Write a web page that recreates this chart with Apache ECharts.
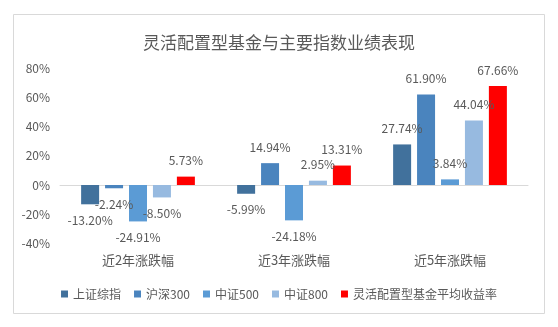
<!DOCTYPE html>
<html>
<head>
<meta charset="UTF-8">
<script src="https://cdn.jsdelivr.net/npm/echarts@6/dist/echarts.min.js"></script>
<title>灵活配置型基金与主要指数业绩表现</title>
<style>
html, body {
	margin: 0;
	padding: 0;
	background: #FFFFFF;
}

#main {
	width: 558px;
	height: 327px;
}
</style>
</head>
<body>
	<div id="main"></div>
	<script>
		// 数据
		var categories = [ '近2年涨跌幅', '近3年涨跌幅', '近5年涨跌幅' ];
		var seriesNames = [ '上证综指', '沪深300', '中证500', '中证800', '灵活配置型基金平均收益率' ];
		var szzz = [ -13.20, -5.99, 27.74 ];
		var hs300 = [ -2.24, 14.94, 61.90 ];
		var zz500 = [ -24.91, -24.18, 3.84 ];
		var zz800 = [ -8.50, 2.95, 44.04 ];
		var fundAvg = [ 5.73, 13.31, 67.66 ];
		var yTicks = [ -40, -20, 0, 20, 40, 60, 80 ];

		var seriesData = [ szzz, hs300, zz500, zz800, fundAvg ];
		var colors = [ '#41719C', '#4A84BE', '#5B9BD5', '#97BAE0', '#FF0000' ];

		var mychart = echarts.init(document.getElementById('main'), null, {
			renderer : 'canvas'
		});

		// 负数标签放在柱子下方
		function toItems(arr) {
			return arr.map(function(v) {
				return {
					value : v,
					label : {
						position : v < 0 ? 'bottom' : 'top'
					}
				};
			});
		}

		var series = seriesNames.map(function(name, i) {
			return {
				name : name,
				type : 'bar',
				xAxisIndex : 0,
				barWidth : 18,
				barGap : '33%',
				data : toItems(seriesData[i]),
				label : {
					show : true,
					distance : 10,
					color : '#595959',
					fontSize : 12,
					lineHeight : 12,
					formatter : function(p) {
						return p.value.toFixed(2) + '%';
					}
				}
			};
		});

		var option = {
			animation : false,
			color : colors,
			textStyle : {
				fontFamily : 'Noto Sans CJK SC'
			},
			graphic : [ {
				type : 'rect',
				z : -10,
				shape : {
					x : 13.5,
					y : 14.5,
					width : 531,
					height : 299
				},
				style : {
					fill : '#FFFFFF',
					stroke : '#D9D9D9',
					lineWidth : 1
				},
				silent : true
			} ],
			title : {
				text : '灵活配置型基金与主要指数业绩表现',
				left : 'center',
				top : 29,
				textStyle : {
					color : '#595959',
					fontSize : 17,
					fontWeight : 'normal',
					fontFamily : 'Noto Sans CJK SC'
				}
			},
			legend : {
				data : seriesNames,
				left : 'center',
				top : 283,
				icon : 'rect',
				itemWidth : 7,
				itemHeight : 7,
				itemGap : 13,
				textStyle : {
					color : '#595959',
					fontSize : 12
				}
			},
			grid : {
				left : 60,
				right : 30,
				top : 68,
				bottom : 83.5
			},
			xAxis : [ {
				type : 'category',
				data : categories,
				position : 'bottom',
				axisLine : {
					show : false,
					onZero : false
				},
				axisTick : {
					show : false
				},
				axisLabel : {
					color : '#595959',
					fontSize : 13,
					margin : 10
				}
			}, {
				type : 'category',
				data : categories,
				position : 'bottom',
				axisLine : {
					show : true,
					onZero : true,
					lineStyle : {
						color : '#D9D9D9',
						width : 1
					}
				},
				axisTick : {
					show : false
				},
				axisLabel : {
					show : false
				}
			} ],
			yAxis : {
				type : 'value',
				min : yTicks[0],
				max : yTicks[yTicks.length - 1],
				interval : 20,
				axisLine : {
					show : false
				},
				axisTick : {
					show : false
				},
				splitLine : {
					show : false
				},
				axisLabel : {
					color : '#595959',
					fontSize : 12,
					margin : 10,
					formatter : '{value}%'
				}
			},
			series : series
		};
		mychart.setOption(option);
	</script>
</body>
</html>
